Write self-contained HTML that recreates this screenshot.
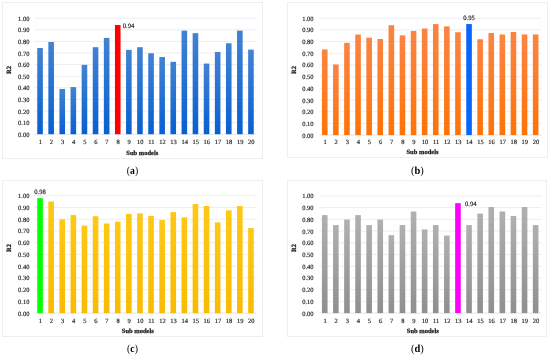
<!DOCTYPE html>
<html><head><meta charset="utf-8"><style>
html,body{margin:0;padding:0;background:#fff;width:550px;height:356px;overflow:hidden}
svg{display:block}
.t{font-family:"Liberation Serif",serif;font-size:6.5px;fill:#1a1a1a;stroke:#1a1a1a;stroke-width:0.15px;text-rendering:geometricPrecision}
.b{font-family:"Liberation Serif",serif;font-size:6.5px;font-weight:bold;fill:#1a1a1a;stroke:#1a1a1a;stroke-width:0.25px;text-rendering:geometricPrecision}
.h{font-size:6.6px}
.cap{font-family:"Liberation Serif",serif;font-size:11px;fill:#000;text-rendering:geometricPrecision}
</style></head><body>
<svg width="550" height="356" viewBox="0 0 550 356">
<defs>
<linearGradient id="ga" x1="0" y1="0" x2="0" y2="1"><stop offset="0" stop-color="#4382d2"/><stop offset="1" stop-color="#0660d2"/></linearGradient>
<linearGradient id="gb" x1="0" y1="0" x2="0" y2="1"><stop offset="0" stop-color="#fb8444"/><stop offset="1" stop-color="#ff7305"/></linearGradient>
<linearGradient id="gc" x1="0" y1="0" x2="0" y2="1"><stop offset="0" stop-color="#fdc816"/><stop offset="1" stop-color="#f9bb00"/></linearGradient>
<linearGradient id="gd" x1="0" y1="0" x2="0" y2="1"><stop offset="0" stop-color="#b0b0b0"/><stop offset="1" stop-color="#8f8f8f"/></linearGradient>
</defs>
<rect x="2.5" y="2.5" width="260" height="156" fill="#fff" stroke="#edeef2" stroke-width="1"/>
<line x1="34.5" y1="134.20" x2="256.5" y2="134.20" stroke="#d6dbe6" stroke-width="0.75"/>
<text class="t" x="29.40" y="136.70" text-anchor="end">0.00</text>
<line x1="34.5" y1="122.60" x2="256.5" y2="122.60" stroke="#e5e7ec" stroke-width="0.75"/>
<text class="t" x="29.40" y="125.10" text-anchor="end">0.10</text>
<line x1="34.5" y1="111.00" x2="256.5" y2="111.00" stroke="#e5e7ec" stroke-width="0.75"/>
<text class="t" x="29.40" y="113.50" text-anchor="end">0.20</text>
<line x1="34.5" y1="99.40" x2="256.5" y2="99.40" stroke="#e5e7ec" stroke-width="0.75"/>
<text class="t" x="29.40" y="101.90" text-anchor="end">0.30</text>
<line x1="34.5" y1="87.80" x2="256.5" y2="87.80" stroke="#e5e7ec" stroke-width="0.75"/>
<text class="t" x="29.40" y="90.30" text-anchor="end">0.40</text>
<line x1="34.5" y1="76.20" x2="256.5" y2="76.20" stroke="#e5e7ec" stroke-width="0.75"/>
<text class="t" x="29.40" y="78.70" text-anchor="end">0.50</text>
<line x1="34.5" y1="64.60" x2="256.5" y2="64.60" stroke="#e5e7ec" stroke-width="0.75"/>
<text class="t" x="29.40" y="67.10" text-anchor="end">0.60</text>
<line x1="34.5" y1="53.00" x2="256.5" y2="53.00" stroke="#e5e7ec" stroke-width="0.75"/>
<text class="t" x="29.40" y="55.50" text-anchor="end">0.70</text>
<line x1="34.5" y1="41.40" x2="256.5" y2="41.40" stroke="#e5e7ec" stroke-width="0.75"/>
<text class="t" x="29.40" y="43.90" text-anchor="end">0.80</text>
<line x1="34.5" y1="29.80" x2="256.5" y2="29.80" stroke="#e5e7ec" stroke-width="0.75"/>
<text class="t" x="29.40" y="32.30" text-anchor="end">0.90</text>
<line x1="34.5" y1="18.20" x2="256.5" y2="18.20" stroke="#e5e7ec" stroke-width="0.75"/>
<text class="t" x="29.40" y="20.70" text-anchor="end">1.00</text>
<rect x="37.25" y="48.01" width="5.6" height="86.19" fill="url(#ga)"/>
<text class="t" x="40.35" y="144.00" text-anchor="middle">1</text>
<rect x="48.35" y="41.98" width="5.6" height="92.22" fill="url(#ga)"/>
<text class="t" x="51.45" y="144.00" text-anchor="middle">2</text>
<rect x="59.45" y="88.96" width="5.6" height="45.24" fill="url(#ga)"/>
<text class="t" x="62.55" y="144.00" text-anchor="middle">3</text>
<rect x="70.55" y="87.10" width="5.6" height="47.10" fill="url(#ga)"/>
<text class="t" x="73.65" y="144.00" text-anchor="middle">4</text>
<rect x="81.65" y="64.83" width="5.6" height="69.37" fill="url(#ga)"/>
<text class="t" x="84.75" y="144.00" text-anchor="middle">5</text>
<rect x="92.75" y="47.20" width="5.6" height="87.00" fill="url(#ga)"/>
<text class="t" x="95.85" y="144.00" text-anchor="middle">6</text>
<rect x="103.85" y="37.92" width="5.6" height="96.28" fill="url(#ga)"/>
<text class="t" x="106.95" y="144.00" text-anchor="middle">7</text>
<rect x="114.95" y="25.04" width="5.6" height="109.16" fill="#ff0000"/>
<text class="t" x="118.05" y="144.00" text-anchor="middle">8</text>
<text class="t h" x="122.75" y="28.24">0.94</text>
<rect x="126.05" y="49.87" width="5.6" height="84.33" fill="url(#ga)"/>
<text class="t" x="129.15" y="144.00" text-anchor="middle">9</text>
<rect x="137.15" y="47.20" width="5.6" height="87.00" fill="url(#ga)"/>
<text class="t" x="140.25" y="144.00" text-anchor="middle">10</text>
<rect x="148.25" y="53.23" width="5.6" height="80.97" fill="url(#ga)"/>
<text class="t" x="151.35" y="144.00" text-anchor="middle">11</text>
<rect x="159.35" y="57.06" width="5.6" height="77.14" fill="url(#ga)"/>
<text class="t" x="162.45" y="144.00" text-anchor="middle">12</text>
<rect x="170.45" y="61.82" width="5.6" height="72.38" fill="url(#ga)"/>
<text class="t" x="173.55" y="144.00" text-anchor="middle">13</text>
<rect x="181.55" y="30.61" width="5.6" height="103.59" fill="url(#ga)"/>
<text class="t" x="184.65" y="144.00" text-anchor="middle">14</text>
<rect x="192.65" y="33.16" width="5.6" height="101.04" fill="url(#ga)"/>
<text class="t" x="195.75" y="144.00" text-anchor="middle">15</text>
<rect x="203.75" y="63.56" width="5.6" height="70.64" fill="url(#ga)"/>
<text class="t" x="206.85" y="144.00" text-anchor="middle">16</text>
<rect x="214.85" y="51.96" width="5.6" height="82.24" fill="url(#ga)"/>
<text class="t" x="217.95" y="144.00" text-anchor="middle">17</text>
<rect x="225.95" y="43.26" width="5.6" height="90.94" fill="url(#ga)"/>
<text class="t" x="229.05" y="144.00" text-anchor="middle">18</text>
<rect x="237.05" y="30.61" width="5.6" height="103.59" fill="url(#ga)"/>
<text class="t" x="240.15" y="144.00" text-anchor="middle">19</text>
<rect x="248.15" y="49.64" width="5.6" height="84.56" fill="url(#ga)"/>
<text class="t" x="251.25" y="144.00" text-anchor="middle">20</text>
<text class="b" x="142.30" y="154.60" text-anchor="middle">Sub models</text>
<text class="b" transform="translate(10.8,70.00) rotate(-90)" text-anchor="middle">R2</text>
<text class="cap" transform="translate(132.5,173.6) scale(0.88,1)" text-anchor="middle">(<tspan font-weight="bold">a</tspan>)</text>
<rect x="287.5" y="2.5" width="260" height="155" fill="#fff" stroke="#edeef2" stroke-width="1"/>
<line x1="319.5" y1="135.10" x2="541.5" y2="135.10" stroke="#d6dbe6" stroke-width="0.75"/>
<text class="t" x="313.60" y="137.60" text-anchor="end">0.00</text>
<line x1="319.5" y1="123.41" x2="541.5" y2="123.41" stroke="#e5e7ec" stroke-width="0.75"/>
<text class="t" x="313.60" y="125.91" text-anchor="end">0.10</text>
<line x1="319.5" y1="111.72" x2="541.5" y2="111.72" stroke="#e5e7ec" stroke-width="0.75"/>
<text class="t" x="313.60" y="114.22" text-anchor="end">0.20</text>
<line x1="319.5" y1="100.03" x2="541.5" y2="100.03" stroke="#e5e7ec" stroke-width="0.75"/>
<text class="t" x="313.60" y="102.53" text-anchor="end">0.30</text>
<line x1="319.5" y1="88.34" x2="541.5" y2="88.34" stroke="#e5e7ec" stroke-width="0.75"/>
<text class="t" x="313.60" y="90.84" text-anchor="end">0.40</text>
<line x1="319.5" y1="76.65" x2="541.5" y2="76.65" stroke="#e5e7ec" stroke-width="0.75"/>
<text class="t" x="313.60" y="79.15" text-anchor="end">0.50</text>
<line x1="319.5" y1="64.96" x2="541.5" y2="64.96" stroke="#e5e7ec" stroke-width="0.75"/>
<text class="t" x="313.60" y="67.46" text-anchor="end">0.60</text>
<line x1="319.5" y1="53.27" x2="541.5" y2="53.27" stroke="#e5e7ec" stroke-width="0.75"/>
<text class="t" x="313.60" y="55.77" text-anchor="end">0.70</text>
<line x1="319.5" y1="41.58" x2="541.5" y2="41.58" stroke="#e5e7ec" stroke-width="0.75"/>
<text class="t" x="313.60" y="44.08" text-anchor="end">0.80</text>
<line x1="319.5" y1="29.89" x2="541.5" y2="29.89" stroke="#e5e7ec" stroke-width="0.75"/>
<text class="t" x="313.60" y="32.39" text-anchor="end">0.90</text>
<line x1="319.5" y1="18.20" x2="541.5" y2="18.20" stroke="#e5e7ec" stroke-width="0.75"/>
<text class="t" x="313.60" y="20.70" text-anchor="end">1.00</text>
<rect x="321.95" y="49.41" width="5.6" height="85.69" fill="url(#gb)"/>
<text class="t" x="325.05" y="144.00" text-anchor="middle">1</text>
<rect x="333.05" y="64.49" width="5.6" height="70.61" fill="url(#gb)"/>
<text class="t" x="336.15" y="144.00" text-anchor="middle">2</text>
<rect x="344.15" y="42.87" width="5.6" height="92.23" fill="url(#gb)"/>
<text class="t" x="347.25" y="144.00" text-anchor="middle">3</text>
<rect x="355.25" y="34.57" width="5.6" height="100.53" fill="url(#gb)"/>
<text class="t" x="358.35" y="144.00" text-anchor="middle">4</text>
<rect x="366.35" y="37.72" width="5.6" height="97.38" fill="url(#gb)"/>
<text class="t" x="369.45" y="144.00" text-anchor="middle">5</text>
<rect x="377.45" y="39.01" width="5.6" height="96.09" fill="url(#gb)"/>
<text class="t" x="380.55" y="144.00" text-anchor="middle">6</text>
<rect x="388.55" y="25.21" width="5.6" height="109.89" fill="url(#gb)"/>
<text class="t" x="391.65" y="144.00" text-anchor="middle">7</text>
<rect x="399.65" y="35.38" width="5.6" height="99.72" fill="url(#gb)"/>
<text class="t" x="402.75" y="144.00" text-anchor="middle">8</text>
<rect x="410.75" y="30.94" width="5.6" height="104.16" fill="url(#gb)"/>
<text class="t" x="413.85" y="144.00" text-anchor="middle">9</text>
<rect x="421.85" y="28.49" width="5.6" height="106.61" fill="url(#gb)"/>
<text class="t" x="424.95" y="144.00" text-anchor="middle">10</text>
<rect x="432.95" y="24.05" width="5.6" height="111.05" fill="url(#gb)"/>
<text class="t" x="436.05" y="144.00" text-anchor="middle">11</text>
<rect x="444.05" y="26.38" width="5.6" height="108.72" fill="url(#gb)"/>
<text class="t" x="447.15" y="144.00" text-anchor="middle">12</text>
<rect x="455.15" y="32.23" width="5.6" height="102.87" fill="url(#gb)"/>
<text class="t" x="458.25" y="144.00" text-anchor="middle">13</text>
<rect x="466.25" y="24.05" width="5.6" height="111.05" fill="#0866ff"/>
<text class="t" x="469.35" y="144.00" text-anchor="middle">14</text>
<text class="t h" x="469.05" y="19.65" text-anchor="middle">0.95</text>
<rect x="477.35" y="39.24" width="5.6" height="95.86" fill="url(#gb)"/>
<text class="t" x="480.45" y="144.00" text-anchor="middle">15</text>
<rect x="488.45" y="33.05" width="5.6" height="102.05" fill="url(#gb)"/>
<text class="t" x="491.55" y="144.00" text-anchor="middle">16</text>
<rect x="499.55" y="34.45" width="5.6" height="100.65" fill="url(#gb)"/>
<text class="t" x="502.65" y="144.00" text-anchor="middle">17</text>
<rect x="510.65" y="31.99" width="5.6" height="103.11" fill="url(#gb)"/>
<text class="t" x="513.75" y="144.00" text-anchor="middle">18</text>
<rect x="521.75" y="34.45" width="5.6" height="100.65" fill="url(#gb)"/>
<text class="t" x="524.85" y="144.00" text-anchor="middle">19</text>
<rect x="532.85" y="34.45" width="5.6" height="100.65" fill="url(#gb)"/>
<text class="t" x="535.95" y="144.00" text-anchor="middle">20</text>
<text class="b" x="422.50" y="153.80" text-anchor="middle">Sub models</text>
<text class="b" transform="translate(295.8,70.00) rotate(-90)" text-anchor="middle">R2</text>
<text class="cap" transform="translate(417.3,173.6) scale(0.95,1)" text-anchor="middle">(<tspan font-weight="bold">b</tspan>)</text>
<rect x="2.5" y="180.5" width="260" height="156" fill="#fff" stroke="#edeef2" stroke-width="1"/>
<line x1="34.5" y1="313.10" x2="256.5" y2="313.10" stroke="#d6dbe6" stroke-width="0.75"/>
<text class="t" x="29.40" y="315.60" text-anchor="end">0.00</text>
<line x1="34.5" y1="301.37" x2="256.5" y2="301.37" stroke="#e5e7ec" stroke-width="0.75"/>
<text class="t" x="29.40" y="303.87" text-anchor="end">0.10</text>
<line x1="34.5" y1="289.64" x2="256.5" y2="289.64" stroke="#e5e7ec" stroke-width="0.75"/>
<text class="t" x="29.40" y="292.14" text-anchor="end">0.20</text>
<line x1="34.5" y1="277.91" x2="256.5" y2="277.91" stroke="#e5e7ec" stroke-width="0.75"/>
<text class="t" x="29.40" y="280.41" text-anchor="end">0.30</text>
<line x1="34.5" y1="266.18" x2="256.5" y2="266.18" stroke="#e5e7ec" stroke-width="0.75"/>
<text class="t" x="29.40" y="268.68" text-anchor="end">0.40</text>
<line x1="34.5" y1="254.45" x2="256.5" y2="254.45" stroke="#e5e7ec" stroke-width="0.75"/>
<text class="t" x="29.40" y="256.95" text-anchor="end">0.50</text>
<line x1="34.5" y1="242.72" x2="256.5" y2="242.72" stroke="#e5e7ec" stroke-width="0.75"/>
<text class="t" x="29.40" y="245.22" text-anchor="end">0.60</text>
<line x1="34.5" y1="230.99" x2="256.5" y2="230.99" stroke="#e5e7ec" stroke-width="0.75"/>
<text class="t" x="29.40" y="233.49" text-anchor="end">0.70</text>
<line x1="34.5" y1="219.26" x2="256.5" y2="219.26" stroke="#e5e7ec" stroke-width="0.75"/>
<text class="t" x="29.40" y="221.76" text-anchor="end">0.80</text>
<line x1="34.5" y1="207.53" x2="256.5" y2="207.53" stroke="#e5e7ec" stroke-width="0.75"/>
<text class="t" x="29.40" y="210.03" text-anchor="end">0.90</text>
<line x1="34.5" y1="195.80" x2="256.5" y2="195.80" stroke="#e5e7ec" stroke-width="0.75"/>
<text class="t" x="29.40" y="198.30" text-anchor="end">1.00</text>
<rect x="37.25" y="198.15" width="5.6" height="114.95" fill="#00ff00"/>
<text class="t" x="40.35" y="322.90" text-anchor="middle">1</text>
<text class="t h" x="40.05" y="193.75" text-anchor="middle">0.98</text>
<rect x="48.35" y="201.55" width="5.6" height="111.55" fill="url(#gc)"/>
<text class="t" x="51.45" y="322.90" text-anchor="middle">2</text>
<rect x="59.45" y="219.26" width="5.6" height="93.84" fill="url(#gc)"/>
<text class="t" x="62.55" y="322.90" text-anchor="middle">3</text>
<rect x="70.55" y="215.04" width="5.6" height="98.06" fill="url(#gc)"/>
<text class="t" x="73.65" y="322.90" text-anchor="middle">4</text>
<rect x="81.65" y="225.59" width="5.6" height="87.51" fill="url(#gc)"/>
<text class="t" x="84.75" y="322.90" text-anchor="middle">5</text>
<rect x="92.75" y="216.21" width="5.6" height="96.89" fill="url(#gc)"/>
<text class="t" x="95.85" y="322.90" text-anchor="middle">6</text>
<rect x="103.85" y="223.48" width="5.6" height="89.62" fill="url(#gc)"/>
<text class="t" x="106.95" y="322.90" text-anchor="middle">7</text>
<rect x="114.95" y="221.72" width="5.6" height="91.38" fill="url(#gc)"/>
<text class="t" x="118.05" y="322.90" text-anchor="middle">8</text>
<rect x="126.05" y="213.86" width="5.6" height="99.24" fill="url(#gc)"/>
<text class="t" x="129.15" y="322.90" text-anchor="middle">9</text>
<rect x="137.15" y="213.40" width="5.6" height="99.71" fill="url(#gc)"/>
<text class="t" x="140.25" y="322.90" text-anchor="middle">10</text>
<rect x="148.25" y="215.86" width="5.6" height="97.24" fill="url(#gc)"/>
<text class="t" x="151.35" y="322.90" text-anchor="middle">11</text>
<rect x="159.35" y="220.08" width="5.6" height="93.02" fill="url(#gc)"/>
<text class="t" x="162.45" y="322.90" text-anchor="middle">12</text>
<rect x="170.45" y="212.10" width="5.6" height="101.00" fill="url(#gc)"/>
<text class="t" x="173.55" y="322.90" text-anchor="middle">13</text>
<rect x="181.55" y="217.38" width="5.6" height="95.72" fill="url(#gc)"/>
<text class="t" x="184.65" y="322.90" text-anchor="middle">14</text>
<rect x="192.65" y="204.01" width="5.6" height="109.09" fill="url(#gc)"/>
<text class="t" x="195.75" y="322.90" text-anchor="middle">15</text>
<rect x="203.75" y="206.01" width="5.6" height="107.09" fill="url(#gc)"/>
<text class="t" x="206.85" y="322.90" text-anchor="middle">16</text>
<rect x="214.85" y="222.31" width="5.6" height="90.79" fill="url(#gc)"/>
<text class="t" x="217.95" y="322.90" text-anchor="middle">17</text>
<rect x="225.95" y="210.35" width="5.6" height="102.75" fill="url(#gc)"/>
<text class="t" x="229.05" y="322.90" text-anchor="middle">18</text>
<rect x="237.05" y="206.01" width="5.6" height="107.09" fill="url(#gc)"/>
<text class="t" x="240.15" y="322.90" text-anchor="middle">19</text>
<rect x="248.15" y="228.06" width="5.6" height="85.04" fill="url(#gc)"/>
<text class="t" x="251.25" y="322.90" text-anchor="middle">20</text>
<text class="b" x="137.80" y="332.60" text-anchor="middle">Sub models</text>
<text class="b" transform="translate(10.8,248.00) rotate(-90)" text-anchor="middle">R2</text>
<text class="cap" transform="translate(132.5,351.5) scale(0.88,1)" text-anchor="middle">(<tspan font-weight="bold">c</tspan>)</text>
<rect x="287.5" y="180.5" width="259" height="156" fill="#fff" stroke="#edeef2" stroke-width="1"/>
<line x1="319.5" y1="313.10" x2="541.5" y2="313.10" stroke="#d6dbe6" stroke-width="0.75"/>
<text class="t" x="313.60" y="315.60" text-anchor="end">0.00</text>
<line x1="319.5" y1="301.38" x2="541.5" y2="301.38" stroke="#e5e7ec" stroke-width="0.75"/>
<text class="t" x="313.60" y="303.88" text-anchor="end">0.10</text>
<line x1="319.5" y1="289.66" x2="541.5" y2="289.66" stroke="#e5e7ec" stroke-width="0.75"/>
<text class="t" x="313.60" y="292.16" text-anchor="end">0.20</text>
<line x1="319.5" y1="277.94" x2="541.5" y2="277.94" stroke="#e5e7ec" stroke-width="0.75"/>
<text class="t" x="313.60" y="280.44" text-anchor="end">0.30</text>
<line x1="319.5" y1="266.22" x2="541.5" y2="266.22" stroke="#e5e7ec" stroke-width="0.75"/>
<text class="t" x="313.60" y="268.72" text-anchor="end">0.40</text>
<line x1="319.5" y1="254.50" x2="541.5" y2="254.50" stroke="#e5e7ec" stroke-width="0.75"/>
<text class="t" x="313.60" y="257.00" text-anchor="end">0.50</text>
<line x1="319.5" y1="242.78" x2="541.5" y2="242.78" stroke="#e5e7ec" stroke-width="0.75"/>
<text class="t" x="313.60" y="245.28" text-anchor="end">0.60</text>
<line x1="319.5" y1="231.06" x2="541.5" y2="231.06" stroke="#e5e7ec" stroke-width="0.75"/>
<text class="t" x="313.60" y="233.56" text-anchor="end">0.70</text>
<line x1="319.5" y1="219.34" x2="541.5" y2="219.34" stroke="#e5e7ec" stroke-width="0.75"/>
<text class="t" x="313.60" y="221.84" text-anchor="end">0.80</text>
<line x1="319.5" y1="207.62" x2="541.5" y2="207.62" stroke="#e5e7ec" stroke-width="0.75"/>
<text class="t" x="313.60" y="210.12" text-anchor="end">0.90</text>
<line x1="319.5" y1="195.90" x2="541.5" y2="195.90" stroke="#e5e7ec" stroke-width="0.75"/>
<text class="t" x="313.60" y="198.40" text-anchor="end">1.00</text>
<rect x="321.95" y="215.12" width="5.6" height="97.98" fill="url(#gd)"/>
<text class="t" x="325.05" y="322.90" text-anchor="middle">1</text>
<rect x="333.05" y="225.08" width="5.6" height="88.02" fill="url(#gd)"/>
<text class="t" x="336.15" y="322.90" text-anchor="middle">2</text>
<rect x="344.15" y="219.57" width="5.6" height="93.53" fill="url(#gd)"/>
<text class="t" x="347.25" y="322.90" text-anchor="middle">3</text>
<rect x="355.25" y="215.12" width="5.6" height="97.98" fill="url(#gd)"/>
<text class="t" x="358.35" y="322.90" text-anchor="middle">4</text>
<rect x="366.35" y="225.08" width="5.6" height="88.02" fill="url(#gd)"/>
<text class="t" x="369.45" y="322.90" text-anchor="middle">5</text>
<rect x="377.45" y="219.57" width="5.6" height="93.53" fill="url(#gd)"/>
<text class="t" x="380.55" y="322.90" text-anchor="middle">6</text>
<rect x="388.55" y="235.16" width="5.6" height="77.94" fill="url(#gd)"/>
<text class="t" x="391.65" y="322.90" text-anchor="middle">7</text>
<rect x="399.65" y="225.08" width="5.6" height="88.02" fill="url(#gd)"/>
<text class="t" x="402.75" y="322.90" text-anchor="middle">8</text>
<rect x="410.75" y="211.49" width="5.6" height="101.61" fill="url(#gd)"/>
<text class="t" x="413.85" y="322.90" text-anchor="middle">9</text>
<rect x="421.85" y="229.42" width="5.6" height="83.68" fill="url(#gd)"/>
<text class="t" x="424.95" y="322.90" text-anchor="middle">10</text>
<rect x="432.95" y="225.08" width="5.6" height="88.02" fill="url(#gd)"/>
<text class="t" x="436.05" y="322.90" text-anchor="middle">11</text>
<rect x="444.05" y="235.51" width="5.6" height="77.59" fill="url(#gd)"/>
<text class="t" x="447.15" y="322.90" text-anchor="middle">12</text>
<rect x="455.15" y="203.17" width="5.6" height="109.93" fill="#ff00ff"/>
<text class="t" x="458.25" y="322.90" text-anchor="middle">13</text>
<text class="t h" x="464.95" y="205.77">0.94</text>
<rect x="466.25" y="225.08" width="5.6" height="88.02" fill="url(#gd)"/>
<text class="t" x="469.35" y="322.90" text-anchor="middle">14</text>
<rect x="477.35" y="213.60" width="5.6" height="99.50" fill="url(#gd)"/>
<text class="t" x="480.45" y="322.90" text-anchor="middle">15</text>
<rect x="488.45" y="207.03" width="5.6" height="106.07" fill="url(#gd)"/>
<text class="t" x="491.55" y="322.90" text-anchor="middle">16</text>
<rect x="499.55" y="211.49" width="5.6" height="101.61" fill="url(#gd)"/>
<text class="t" x="502.65" y="322.90" text-anchor="middle">17</text>
<rect x="510.65" y="215.94" width="5.6" height="97.16" fill="url(#gd)"/>
<text class="t" x="513.75" y="322.90" text-anchor="middle">18</text>
<rect x="521.75" y="207.03" width="5.6" height="106.07" fill="url(#gd)"/>
<text class="t" x="524.85" y="322.90" text-anchor="middle">19</text>
<rect x="532.85" y="225.08" width="5.6" height="88.02" fill="url(#gd)"/>
<text class="t" x="535.95" y="322.90" text-anchor="middle">20</text>
<text class="b" x="422.80" y="332.60" text-anchor="middle">Sub models</text>
<text class="b" transform="translate(295.8,248.00) rotate(-90)" text-anchor="middle">R2</text>
<text class="cap" transform="translate(417.3,351.5) scale(0.95,1)" text-anchor="middle">(<tspan font-weight="bold">d</tspan>)</text>
</svg></body></html>
